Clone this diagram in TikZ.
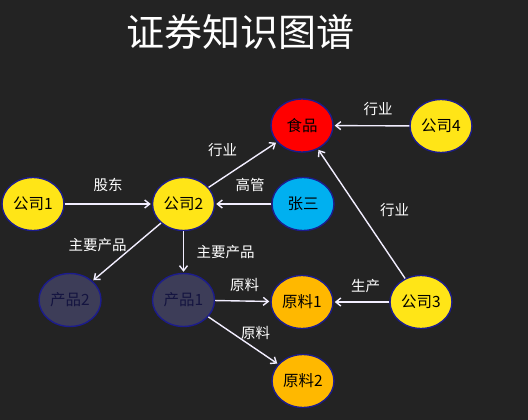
\documentclass[tikz,border=0pt]{standalone}
\usepackage{fontspec}
\setmainfont{Noto Sans CJK SC}
\usetikzlibrary{shapes.geometric,arrows.meta}
\definecolor{bg}{HTML}{232323}
\definecolor{cyel}{HTML}{FFE517}
\definecolor{cred}{HTML}{FF0000}
\definecolor{ccyan}{HTML}{00B0F0}
\definecolor{corange}{HTML}{FFB800}
\definecolor{cdark}{HTML}{3D3D58}
\definecolor{cnavy}{HTML}{1C1C8C}
\definecolor{cdtext}{HTML}{141440}
\definecolor{cedge}{HTML}{F2EEFF}
\tikzset{
  ent/.style={ellipse, draw=cnavy, line width=1.4pt, minimum width=62pt, minimum height=53pt, inner sep=0pt, text=black, font=\fontsize{15.5}{17}\selectfont},
  rel/.style={draw=cedge, line width=1.4pt, -{Straight Barb[length=5pt,width=8pt]}, shorten >=1pt},
  lbl/.style={text=white, font=\fontsize{14.5}{16}\selectfont, inner sep=0pt}
}
\begin{document}
\begin{tikzpicture}[x=1pt,y=-1pt]
\fill[bg] (0,0) rectangle (528,420);
\useasboundingbox (0,0) rectangle (528,420);
\node[text=white, font=\fontsize{38}{42}\selectfont, inner sep=0pt] (title) at (240,32) {证券知识图谱};
\node[ent, fill=cyel] (c1) at (33,204) {公司1};
\node[ent, fill=cyel] (c2) at (183.5,204) {公司2};
\node[ent, fill=cred] (food) at (302,125.5) {食品};
\node[ent, fill=cyel] (c4) at (441,126) {公司4};
\node[ent, fill=ccyan] (zs) at (303,204) {张三};
\node[ent, fill=cdark, text=cdtext] (p2) at (70,300) {产品2};
\node[ent, fill=cdark, text=cdtext] (p1) at (183.5,300) {产品1};
\node[ent, fill=corange] (m1) at (302,302) {原料1};
\node[ent, fill=cyel] (c3) at (421,302) {公司3};
\node[ent, fill=corange] (m2) at (303,381) {原料2};
\draw[rel] (c1) -- (c2);
\draw[rel] (c2) -- (food);
\draw[rel] (zs) -- (c2);
\draw[rel] (c4) -- (food);
\draw[rel] (c3) -- (food);
\draw[rel] (c2) -- (p2);
\draw[rel] (c2) -- (p1);
\draw[rel] (p1) -- (m1);
\draw[rel] (p1) -- (m2);
\draw[rel] (c3) -- (m1);
\node[lbl] (l1) at (108,185) {股东};
\node[lbl] (l2) at (222.5,150) {行业};
\node[lbl] (l3) at (250,184.5) {高管};
\node[lbl] (l4) at (378,109.5) {行业};
\node[lbl] (l5) at (394.5,210) {行业};
\node[lbl] (l6) at (97.5,245) {主要产品};
\node[lbl] (l7) at (225.5,252.5) {主要产品};
\node[lbl] (l8) at (244.5,285) {原料};
\node[lbl] (l9) at (255.5,332.5) {原料};
\node[lbl] (l10) at (365.5,286) {生产};
\end{tikzpicture}
\end{document}
